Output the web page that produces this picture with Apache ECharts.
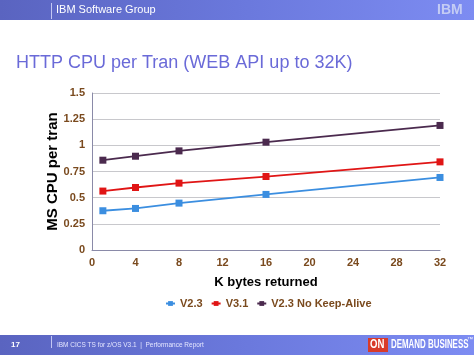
<!DOCTYPE html>
<html><head><meta charset="utf-8">
<script src="https://cdn.jsdelivr.net/npm/echarts@6/dist/echarts.min.js"></script>
<style>html,body{margin:0;padding:0;background:#fff}#c{width:474px;height:355px}</style>
</head><body><div id="c"></div>
<script>
const xValues = [1, 4, 8, 16, 32];
const v23 = [0.375, 0.397, 0.448, 0.531, 0.693];
const v31 = [0.563, 0.597, 0.639, 0.702, 0.842];
const v23NoKA = [0.858, 0.896, 0.947, 1.03, 1.19];
const seriesNames = ['V2.3', 'V3.1', 'V2.3 No Keep-Alive'];
const seriesColors = ['#3b8ee0', '#e01515', '#4b2a4e'];

const pair = ys => xValues.map((x, i) => [x, ys[i]]);
const chart = echarts.init(document.getElementById('c'));
const bandGrad = new echarts.graphic.LinearGradient(0, 0, 1, 0, [
  {offset: 0, color: '#5a64c0'}, {offset: 0.5, color: '#6a78dc'}, {offset: 1, color: '#7d8cf2'}]);
const brown = '#7a4a1e';
chart.setOption({
  animation: false,
  title: {text: 'HTTP CPU per Tran (WEB API up to 32K)', left: 11, top: 49,
    textStyle: {fontFamily: 'Liberation Sans', fontWeight: 'normal', fontSize: 18, color: '#6a6ad8'}},
  graphic: [
    {type: 'rect', shape: {x: 0, y: 0, width: 474, height: 20}, style: {fill: bandGrad}, silent: true},
    {type: 'rect', shape: {x: 51, y: 3, width: 0.8, height: 16}, style: {fill: '#dde0ff'}},
    {type: 'text', x: 56, y: 4, style: {text: 'IBM Software Group', fill: '#ffffff', font: '11px "Liberation Sans"'}},
    {type: 'text', x: 437, y: 3, style: {text: 'IBM', fill: '#c4ccf4', font: 'bold 14px "Liberation Sans"'}},
    {type: 'rect', shape: {x: 0, y: 335, width: 474, height: 20}, style: {fill: bandGrad}, silent: true},
    {type: 'text', x: 11, y: 341, style: {text: '17', fill: '#ffffff', font: 'bold 8px "Liberation Sans"'}},
    {type: 'rect', shape: {x: 51, y: 336, width: 0.8, height: 12}, style: {fill: '#dde0ff'}},
    {type: 'text', x: 57, y: 341, scaleX: 0.81, style: {text: 'IBM CICS TS for z/OS V3.1  |  Performance Report', fill: '#e4e6ff', font: '8px "Liberation Sans"'}},
    {type: 'rect', shape: {x: 368, y: 338, width: 20, height: 14}, style: {fill: '#d83a2a'}},
    {type: 'text', x: 370, y: 339, scaleX: 0.8, style: {text: 'ON', fill: '#ffffff', font: 'bold 12px "Liberation Sans"'}},
    {type: 'text', x: 391, y: 339, scaleX: 0.66, style: {text: 'DEMAND BUSINESS', fill: '#ffffff', font: 'bold 12px "Liberation Sans"'}},
    {type: 'text', x: 467, y: 336, style: {text: '™', fill: '#ffffff', font: '6px "Liberation Sans"'}}
  ],
  grid: {left: 92, right: 34, top: 93, bottom: 105, containLabel: false},
  legend: {bottom: 41, left: 160, itemWidth: 9, itemHeight: 6, itemGap: 8,
    textStyle: {color: brown, fontWeight: 'bold', fontSize: 11, fontFamily: 'Liberation Sans'},
    data: seriesNames},
  xAxis: {type: 'value', min: 0, max: 32, interval: 4,
    name: 'K bytes returned', nameLocation: 'middle', nameGap: 26,
    nameTextStyle: {color: '#000', fontWeight: 'bold', fontSize: 13, fontFamily: 'Liberation Sans'},
    axisLine: {show: true, lineStyle: {color: '#8a8aa8', width: 1}},
    axisTick: {show: false}, splitLine: {show: false},
    axisLabel: {color: brown, fontWeight: 'bold', fontSize: 11, fontFamily: 'Liberation Sans', margin: 7}},
  yAxis: {type: 'value', min: 0, max: 1.5, interval: 0.25,
    name: 'MS CPU per tran', nameLocation: 'middle', nameGap: 32, nameRotate: 90, nameMoveOverlap: false,
    nameTextStyle: {color: '#000', fontWeight: 'bold', fontSize: 15, fontFamily: 'Liberation Sans'},
    axisLine: {show: true, lineStyle: {color: '#8a8aa8', width: 1}},
    axisTick: {show: false},
    splitLine: {show: true, lineStyle: {color: '#c8c8cc', width: 1}},
    axisLabel: {color: brown, fontWeight: 'bold', fontSize: 11, fontFamily: 'Liberation Sans', margin: 7}},
  series: [v23, v31, v23NoKA].map((d, i) => ({
    name: seriesNames[i], type: 'line', data: pair(d),
    symbol: 'rect', symbolSize: 7, color: seriesColors[i],
    lineStyle: {width: 1.8, color: seriesColors[i]},
    itemStyle: {color: seriesColors[i]}
  }))
});
</script></body></html>
